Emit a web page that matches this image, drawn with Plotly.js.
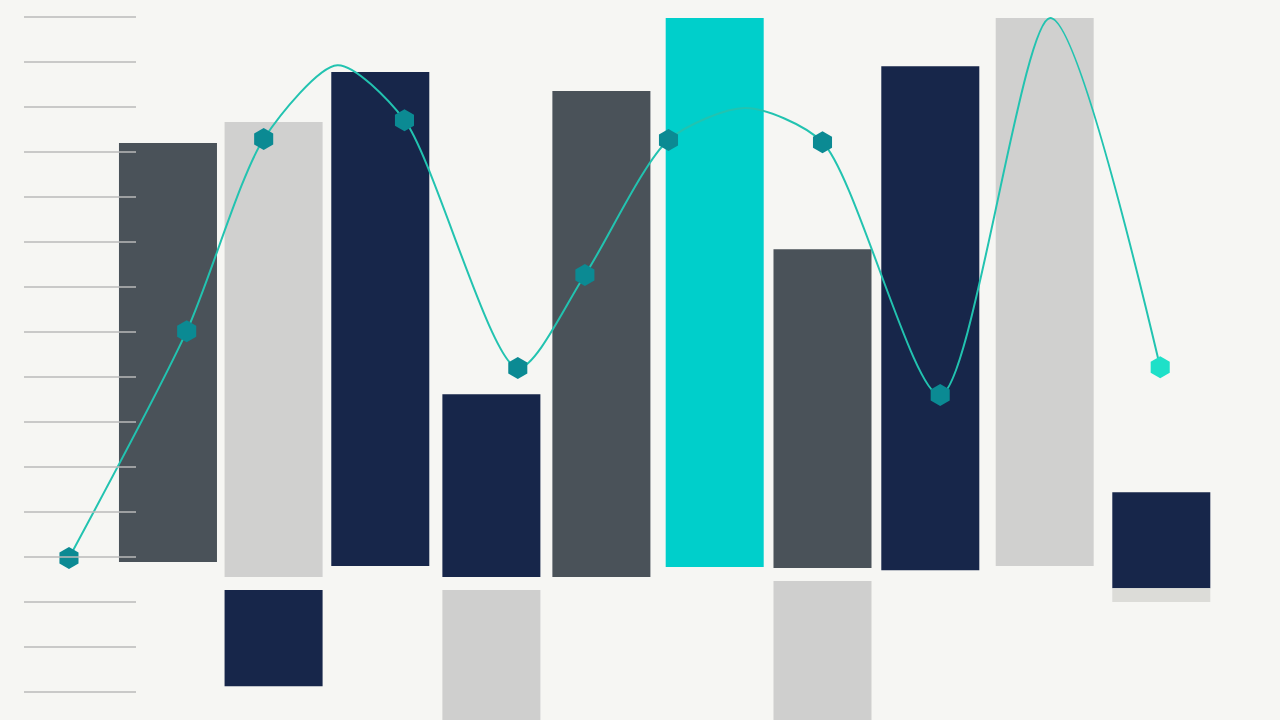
<!DOCTYPE html>
<html>
<head>
<meta charset="utf-8">
<script src="https://cdn.plot.ly/plotly-3.0.1.min.js"></script>
<style>html,body{margin:0;padding:0;background:#f6f6f3;}#chart{width:1280px;height:720px;}</style>
</head>
<body>
<div id="chart"></div>
<script>
// Bar columns (x positions in chart units)
const barX = [1.00, 1.96, 2.93, 3.94, 4.94, 5.97, 6.95, 7.93, 8.97, 10.03];

// Main upper bars: base and top values
const upperBase = [28.9, 25.6, 28.0, 25.6, 25.6, 27.8, 27.6, 27.1, 28.0, 23.1];
const upperTop  = [122.0, 126.7, 137.8, 66.2, 133.6, 149.8, 98.4, 139.1, 149.8, 44.4];
const upperColor = ['#4a5259', '#d0d0cf', '#17264a', '#17264a', '#4a5259', '#00cfcb', '#4a5259', '#17264a', '#d0d0cf', '#17264a'];

// Lower bars
const lowerX    = [1.96, 3.94, 6.95, 10.03];
const lowerBase = [1.3, -8, -8, 20.0];
const lowerTop  = [22.7, 22.7, 24.7, 23.1];
const lowerColor = ['#17264a', '#cfcfce', '#cfcfce', '#dcdcd8'];

// Line series (including unmarked crest points)
const lineX = [0.10, 1.17, 1.87, 2.54, 3.15, 4.18, 4.79, 5.55, 6.25, 6.95, 8.02, 9.02, 10.02];
const lineY = [29.8, 80.2, 122.9, 139.3, 127.1, 72.0, 92.7, 122.7, 129.8, 122.2, 66.0, 149.8, 72.2];
const markerSize = [22, 22, 22, 0, 22, 22, 22, 22, 0, 22, 22, 0, 22];
const markerColor = ['#0b8a93','#0b8a93','#0b8a93','#0b8a93','#0b8a93','#0b8a93','#0b8a93','#0b8a93','#0b8a93','#0b8a93','#0b8a93','#0b8a93','#1ee0c8'];

// Gridline ticks for the left scale
const gridTicks = [0,10,20,30,40,50,60,70,80,90,100,110,120,130,140,150];

const yRange = [-6.2, 153.8];
const xRange = [-0.527, 11.109];

const traces = [
  {
    type: 'bar', x: barX, y: upperTop.map((t, i) => t - upperBase[i]), base: upperBase,
    width: 0.891, marker: {color: upperColor, line: {width: 0}}, hoverinfo: 'skip', xaxis: 'x', yaxis: 'y'
  },
  {
    type: 'bar', x: lowerX, y: lowerTop.map((t, i) => t - lowerBase[i]), base: lowerBase,
    width: 0.891, marker: {color: lowerColor, line: {width: 0}}, hoverinfo: 'skip', xaxis: 'x', yaxis: 'y'
  },
  {
    type: 'scatter', mode: 'lines+markers', x: lineX, y: lineY,
    line: {shape: 'spline', smoothing: 0.75, color: '#22c3b0', width: 2},
    marker: {symbol: 'hexagon', size: markerSize, color: markerColor, opacity: 1, line: {width: 0}},
    opacity: 1,
    hoverinfo: 'skip', xaxis: 'x', yaxis: 'y'
  },
  {
    type: 'scatter', mode: 'markers', x: [0], y: [-100], marker: {size: 0, opacity: 0},
    hoverinfo: 'skip', xaxis: 'x2', yaxis: 'y2'
  }
];

const layout = {
  width: 1280, height: 720,
  margin: {l: 0, r: 0, t: 0, b: 0, pad: 0},
  paper_bgcolor: '#f6f6f3', plot_bgcolor: 'rgba(0,0,0,0)',
  showlegend: false, barmode: 'overlay',
  xaxis: {range: xRange, domain: [0, 1], visible: false, fixedrange: true},
  yaxis: {range: yRange, domain: [0, 1], visible: false, fixedrange: true},
  xaxis2: {domain: [24/1280, 136/1280], anchor: 'y2', range: [0, 1], showgrid: false, zeroline: false, showticklabels: false, showline: false, ticks: ''},
  yaxis2: {domain: [0, 1], anchor: 'x2', range: yRange, tickvals: gridTicks, showgrid: true, gridcolor: 'rgba(185,185,185,0.75)', gridwidth: 2, zeroline: false, showticklabels: false, showline: false, ticks: ''}
};

Plotly.newPlot('chart', traces, layout, {staticPlot: true, displayModeBar: false});
</script>
</body>
</html>
